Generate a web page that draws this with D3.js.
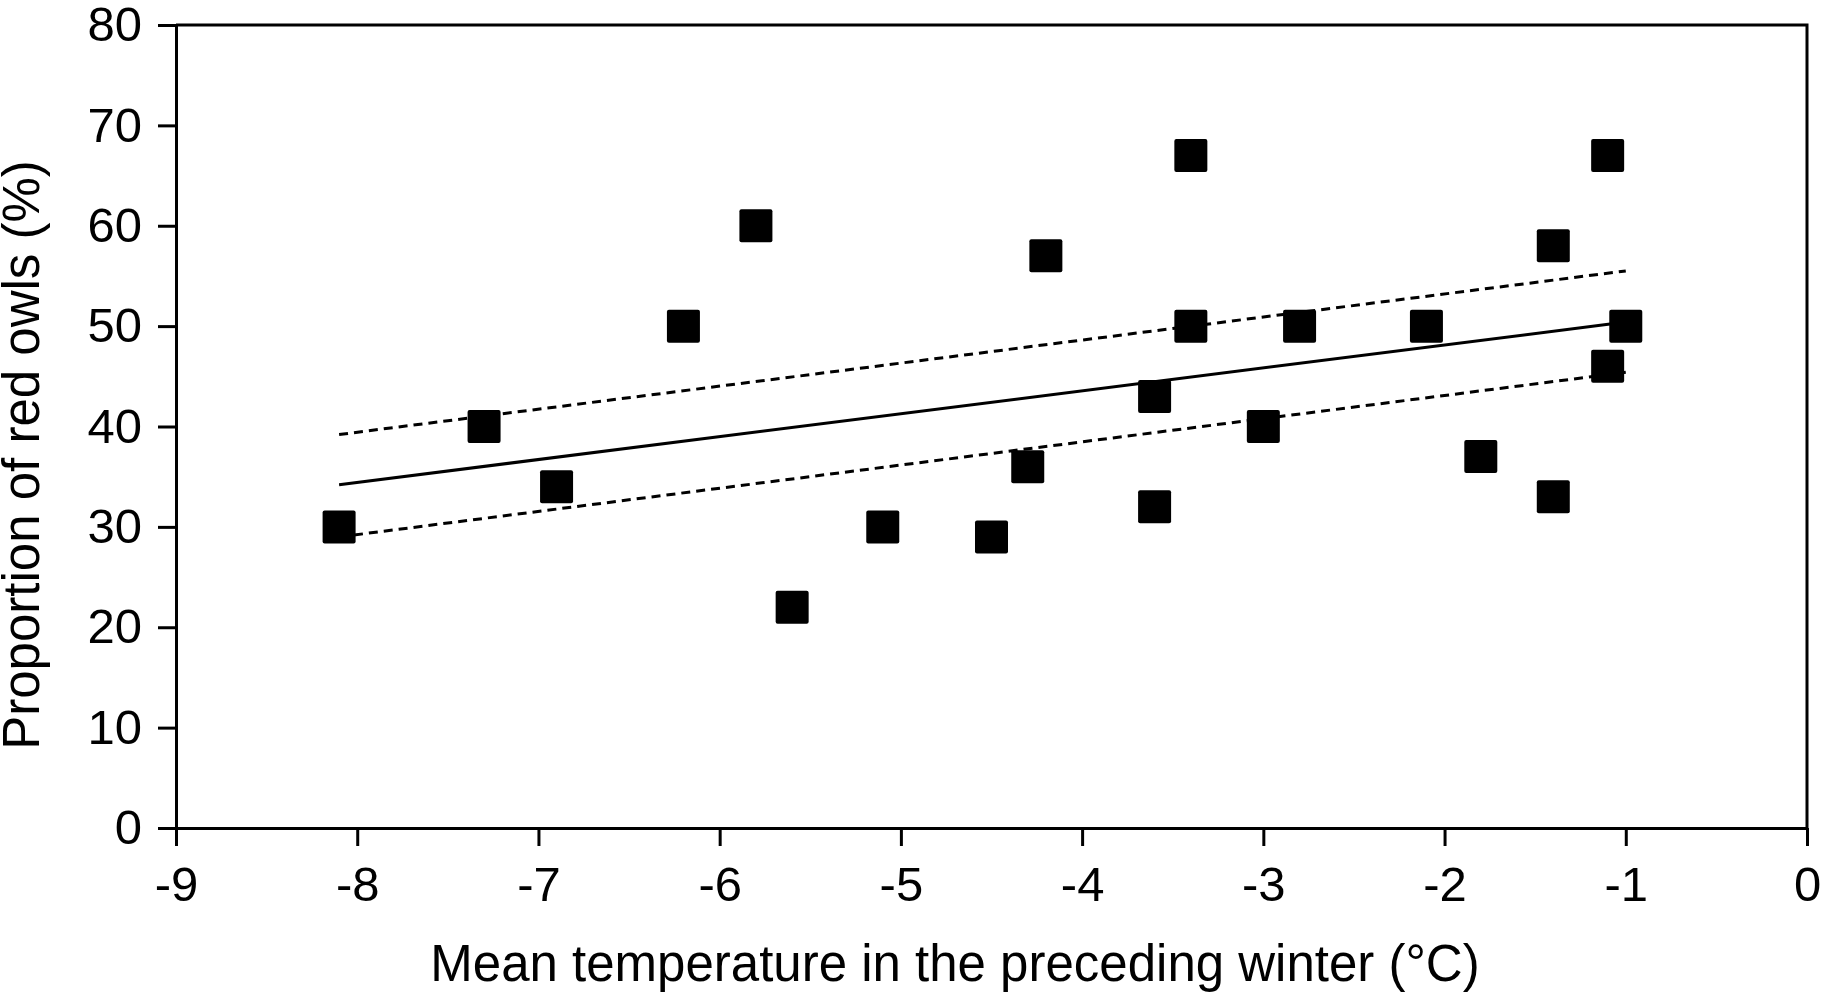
<!DOCTYPE html>
<html>
<head>
<meta charset="utf-8">
<script src="https://cdn.jsdelivr.net/npm/d3@7"></script>
<style>
  body { margin: 0; background: #fff; }
  text { font-family: "Liberation Sans", Arial, sans-serif; fill: #000; }
</style>
</head>
<body>
<div id="chart"></div>
<script>
// data
var temps = [-8.1, -7.3, -6.9, -6.2, -5.8, -5.6, -5.1, -4.5, -4.3, -4.2, -3.6, -3.6,
             -3.4, -3.4, -3.0, -2.8, -2.1, -1.8, -1.4, -1.4, -1.1, -1.1, -1.0];
var redOwls = [30, 40, 34, 50, 60, 22, 30, 29, 36, 57, 43, 32,
               67, 50, 40, 50, 50, 37, 58, 33, 67, 46, 50];
// regression line and its band, ends at x = -8.1 and -1.0
var fitX = [-8.1, -1.0];
var fitY = [34.2, 50.4];
var upperY = [39.2, 55.5];
var lowerY = [29.0, 45.4];
var xTicks = [-9, -8, -7, -6, -5, -4, -3, -2, -1, 0];
var yTicks = [0, 10, 20, 30, 40, 50, 60, 70, 80];

var W = 1825, H = 992;
var margin = {top: 25, right: 18, bottom: 164, left: 176},
    width = W - margin.left - margin.right,
    height = H - margin.top - margin.bottom;

var x = d3.scaleLinear().domain([-9, 0]).range([0, width]);
var y = d3.scaleLinear().domain([0, 80]).range([height, 0]);

var svg = d3.select("#chart").append("svg")
    .attr("width", W)
    .attr("height", H)
  .append("g")
    .attr("transform", "translate(" + margin.left + "," + margin.top + ")");

// frame: top and right lines
svg.append("path")
    .attr("d", "M0,0H" + width + "V" + height)
    .attr("fill", "none")
    .attr("stroke", "#000")
    .attr("stroke-width", 3);

var xAxis = d3.axisBottom(x).tickValues(xTicks).tickSizeInner(18).tickSizeOuter(0)
    .tickPadding(20).tickFormat(d3.format("d"));
var yAxis = d3.axisLeft(y).tickValues(yTicks).tickSizeInner(18).tickSizeOuter(0)
    .tickPadding(16);

var gx = svg.append("g")
    .attr("transform", "translate(0," + height + ")")
    .call(xAxis);
var gy = svg.append("g").call(yAxis);

[gx, gy].forEach(function(g) {
  g.select(".domain").attr("stroke", "#000").attr("stroke-width", 3);
  g.selectAll(".tick line").attr("stroke", "#000").attr("stroke-width", 3);
  g.selectAll(".tick text")
    .attr("font-family", "Liberation Sans, Arial, sans-serif")
    .attr("font-size", 49)
    .attr("fill", "#000");
});
gx.selectAll(".tick text").text(function(d) { return String(d); });

// lines
var line = d3.line()
    .x(function(d) { return x(d[0]); })
    .y(function(d) { return y(d[1]); });

svg.append("path")
    .datum(d3.zip(fitX, fitY))
    .attr("d", line)
    .attr("fill", "none")
    .attr("stroke", "#000")
    .attr("stroke-width", 3);

[upperY, lowerY].forEach(function(band) {
  svg.append("path")
      .datum(d3.zip(fitX, band))
      .attr("d", line)
      .attr("fill", "none")
      .attr("stroke", "#000")
      .attr("stroke-width", 3)
      .attr("stroke-dasharray", "9,6");
});

// points
var s = 33;
svg.selectAll(".pt")
    .data(d3.zip(temps, redOwls))
  .enter().append("rect")
    .attr("class", "pt")
    .attr("x", function(d) { return x(d[0]) - s / 2; })
    .attr("y", function(d) { return y(d[1]) - s / 2; })
    .attr("width", s)
    .attr("height", s)
    .attr("rx", 2)
    .attr("fill", "#000");

// axis titles
svg.append("text")
    .attr("x", 955 - margin.left)
    .attr("y", 981 - margin.top)
    .attr("text-anchor", "middle")
    .attr("font-size", 51)
    .text("Mean temperature in the preceding winter (°C)");

svg.append("text")
    .attr("transform", "translate(" + (39 - margin.left) + "," + (455 - margin.top) + ") rotate(-90)")
    .attr("text-anchor", "middle")
    .attr("font-size", 51)
    .text("Proportion of red owls (%)");
</script>
</body>
</html>
